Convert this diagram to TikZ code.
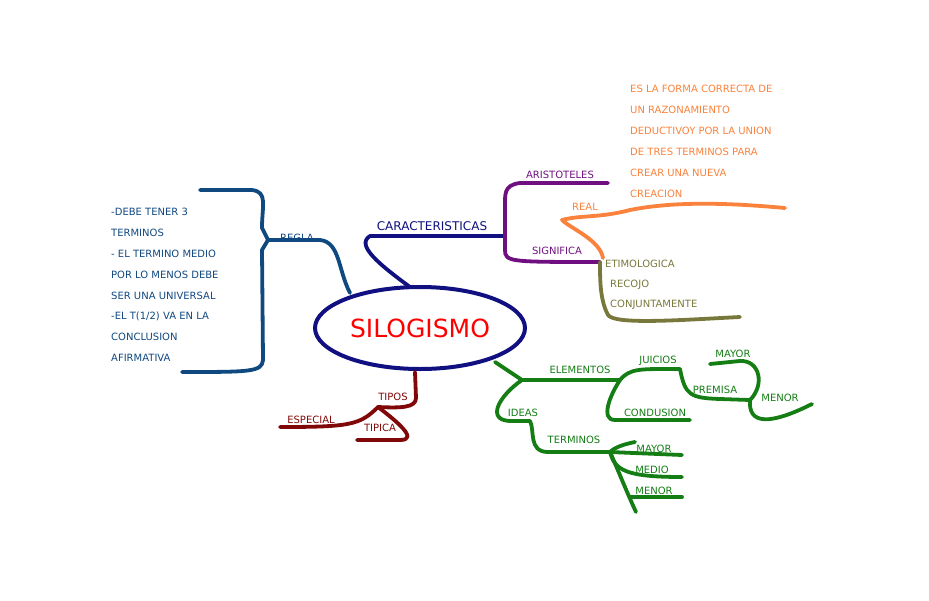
\documentclass[tikz,border=0pt]{standalone}
\usepackage{fontspec}
\setmainfont{DejaVu Sans}
\usetikzlibrary{shapes.geometric}
\begin{document}
\begin{tikzpicture}[x=1pt,y=-1pt,line cap=round,line join=round,
  br/.style={line width=3.8pt},
  lab/.style={font=\fontsize{10}{11}\selectfont,inner sep=0pt},
  txt/.style={font=\fontsize{10}{11}\selectfont,inner sep=0pt,anchor=west}]
\definecolor{navy}{RGB}{16,16,128}
\definecolor{bluer}{RGB}{16,72,128}
\definecolor{purp}{RGB}{112,16,128}
\definecolor{oran}{RGB}{250,130,60}
\definecolor{oliv}{RGB}{120,120,60}
\definecolor{dred}{RGB}{128,8,8}
\definecolor{gren}{RGB}{20,125,20}
\useasboundingbox (0,0) rectangle (929,600);
% center
\node[draw=navy,line width=4pt,ellipse,minimum width=210pt,minimum height=82pt,inner sep=0pt,text=red,font=\fontsize{25}{27}\selectfont] (c) at (420,328) {SILOGISMO};
% caracteristicas
\coordinate (car) at (505,236);
\draw[navy,br] (410,287) .. controls (380,265) and (355,245) .. (370,236) -- (car);
\node[lab,text=navy,font=\fontsize{12}{13}\selectfont] (tcar) at (432,226) {CARACTERISTICAS};
\coordinate (ari) at (608,183);
\coordinate (sig) at (600,262);
\draw[purp,br] (ari) -- (520,183) .. controls (503,185) and (505,195) .. (505,210) -- (505,250) .. controls (505,262) and (510,262) .. (sig);
\node[lab,text=purp] (tari) at (560,175) {ARISTOTELES};
\node[lab,text=purp] (tsig) at (557,251) {SIGNIFICA};
\draw[oran,br] (603,258) .. controls (600,240) and (570,228) .. (562,220) .. controls (580,215) and (600,218) .. (630,210) .. controls (680,200) and (740,204) .. (785,208);
\node[lab,text=oran] (treal) at (585,207) {REAL};
\draw[oliv,br] (sig) .. controls (600,280) and (600,300) .. (608,315) .. controls (615,325) and (680,320) .. (740,317);
\node[txt,text=oliv] (t1) at (605,264) {ETIMOLOGICA};
\node[txt,text=oliv] (t2) at (610,285) {RECOJO};
\node[txt,text=oliv] (t3) at (610,305) {CONJUNTAMENTE};
\foreach \t [count=\i] in {ES LA FORMA CORRECTA DE,UN RAZONAMIENTO,DEDUCTIVOY POR LA UNION,DE TRES TERMINOS PARA,CREAR UNA NUEVA,CREACION}
  \node[txt,text=oran] (o\i) at (630,68+21*\i) {\t};
% regla
\coordinate (reg) at (268,240);
\draw[bluer,br] (350,293) .. controls (338,270) and (340,242) .. (320,240) -- (reg);
\node[lab,text=bluer] (treg) at (297,238) {REGLA};
\draw[bluer,br] (200,190) -- (252,190) .. controls (268,192) and (262,205) .. (262,228) -- (reg) -- (262,250) -- (263,360) .. controls (262,372) and (250,372) .. (182,372);
\foreach \t [count=\i] in {-DEBE TENER 3,TERMINOS,- EL TERMINO MEDIO,POR LO MENOS DEBE,SER UNA UNIVERSAL,-EL T(1/2) VA EN LA,CONCLUSION,AFIRMATIVA}
  \node[txt,text=bluer] (r\i) at (111,191+20.9*\i) {\t};
% tipos
\coordinate (tip) at (378,407);
\draw[dred,br] (415,372) -- (416,398) .. controls (416,408) and (400,408) .. (tip) .. controls (360,425) and (350,427) .. (280,427);
\draw[dred,br] (tip) .. controls (395,420) and (420,440) .. (400,440) -- (357,440);
\node[lab,text=dred] (ttip) at (393,397) {TIPOS};
\node[lab,text=dred] (tesp) at (311,420) {ESPECIAL};
\node[lab,text=dred] (ttpc) at (380,428) {TIPICA};
% green
\coordinate (g1) at (522,380);
\coordinate (el) at (620,380);
\draw[gren,br] (495,362) -- (g1) -- (el);
\node[lab,text=gren] (tel) at (580,370) {ELEMENTOS};
\draw[gren,br] (g1) .. controls (500,395) and (485,420) .. (510,421) -- (530,421) .. controls (535,430) and (528,452) .. (548,452) -- (610,452);
\node[lab,text=gren] (tid) at (523,413) {IDEAS};
\node[lab,text=gren] (tte) at (574,440) {TERMINOS};
\draw[gren,br] (el) .. controls (630,368) and (640,369) .. (680,369);
\node[lab,text=gren] (tju) at (658,361) {JUICIOS};
\draw[gren,br] (el) .. controls (610,395) and (600,420) .. (615,420) -- (690,420);
\node[lab,text=gren] (tco) at (655,413) {CONDUSION};
\draw[gren,br] (680,369) .. controls (685,395) and (690,398) .. (720,399) -- (750,400);
\node[lab,text=gren] (tpr) at (715,390) {PREMISA};
\draw[gren,br] (750,400) .. controls (765,385) and (760,360) .. (740,361) -- (710,364);
\node[lab,text=gren] (tma) at (733,354) {MAYOR};
\draw[gren,br] (750,400) .. controls (748,425) and (770,425) .. (812,404);
\node[lab,text=gren] (tme) at (780,398) {MENOR};
\coordinate (tf) at (610,452);
\draw[gren,br] (tf) .. controls (615,447) and (625,444) .. (635,442);
\draw[gren,br] (tf) -- (682,455);
\draw[gren,br] (tf) .. controls (615,470) and (625,477) .. (682,477);
\draw[gren,br] (tf) .. controls (618,470) and (628,495) .. (636,512);
\draw[gren,br] (630,497) -- (682,497);
\node[lab,text=gren] (t4) at (654,449) {MAYOR};
\node[lab,text=gren] (t5) at (652,470) {MEDIO};
\node[lab,text=gren] (t6) at (654,491) {MENOR};
\end{tikzpicture}
\end{document}
